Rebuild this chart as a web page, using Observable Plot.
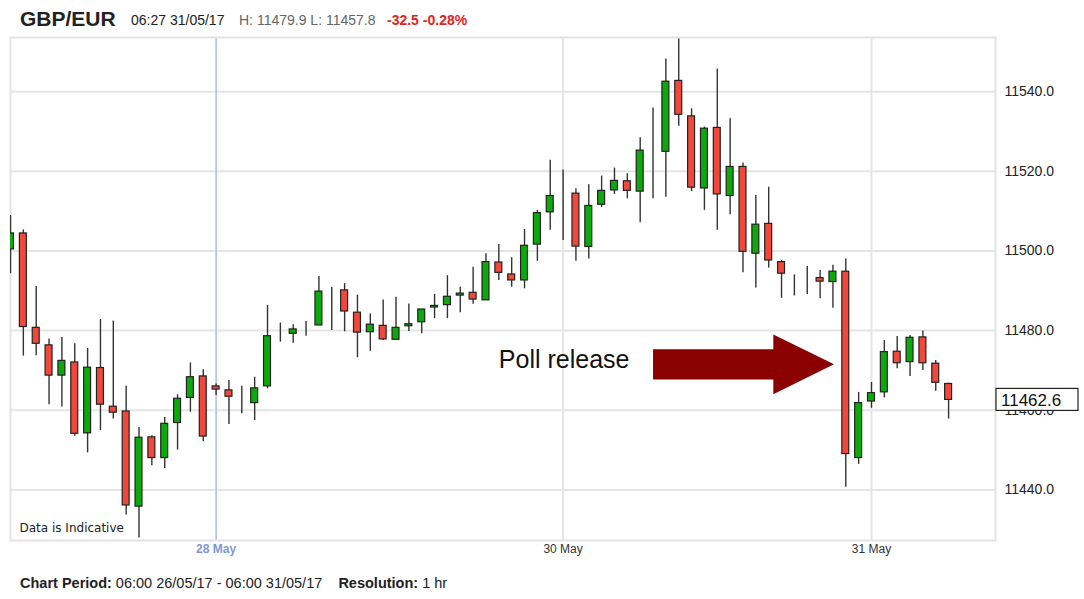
<!DOCTYPE html>
<html>
<head>
<meta charset="utf-8">
<script src="https://cdn.jsdelivr.net/npm/d3@7"></script>
<script src="https://cdn.jsdelivr.net/npm/@observablehq/plot@0.6"></script>
<style>
  html, body { margin: 0; padding: 0; background: #fff; }
  #wrap { position: relative; width: 1084px; height: 599px; overflow: hidden; font-family: "Liberation Sans", Arial, sans-serif; }
  #chart { position: absolute; left: 0; top: 0; }
  .hdr { position: absolute; white-space: nowrap; line-height: 1; }
</style>
</head>
<body>
<div id="wrap">
  <div id="chart"></div>
  <div class="hdr" style="left:20px; top:8px; font-size:21px; font-weight:bold; color:#222;">GBP/EUR</div>
  <div class="hdr" style="left:131px; top:13px; font-size:14px; color:#222;">06:27 31/05/17</div>
  <div class="hdr" style="left:239px; top:13px; font-size:14px; color:#666;">H: 11479.9 L: 11457.8</div>
  <div class="hdr" style="left:387px; top:13px; font-size:14px; font-weight:bold; color:#e2251c;">-32.5 -0.28%</div>
  <div class="hdr" style="left:20px; top:576px; font-size:14.5px; color:#222;"><b>Chart Period:</b> 06:00 26/05/17 - 06:00 31/05/17&nbsp;&nbsp;&nbsp;&nbsp;<b>Resolution:</b> 1 hr</div>
</div>
<script>
// ---- data (hourly candles, index 0 = 06:00 26/05/17) ----
const open  = [11500.4,11504.4,11480.7,11476.3,11468.7,11472.0,11454.2,11470.6,11460.9,11459.7,
               11435.8,11453.2,11448.0,11456.8,11463.1,11468.5,11466.0,11465.0,11462.1,11461.8,
               11466.0,11478.9,11479.2,11481.0,11481.3,11490.3,11490.1,11484.5,11479.6,11481.2,
               11477.7,11481.1,11482.1,11485.8,11486.4,11488.8,11489.5,11487.6,11497.1,11494.1,
               11492.6,11501.6,11509.7,11514.2,11514.4,11501.0,11511.6,11515.2,11517.5,11514.9,
               11525.4,11524.9,11542.7,11533.8,11515.7,11530.9,11513.8,11521.1,11499.3,11506.8,
               11497.2,11493.8,11493.3,11493.2,11492.2,11494.8,11448.0,11462.2,11464.5,11474.7,
               11472.1,11478.3,11471.7,11466.6];
const high  = [11508.9,11505.3,11491.1,11477.9,11478.3,11476.7,11475.5,11482.8,11482.4,11466.0,
               11455.7,11453.6,11458.2,11463.9,11471.9,11470.2,11466.6,11467.5,11466.0,11468.3,
               11486.3,11481.9,11481.5,11482.3,11493.6,11490.8,11491.8,11488.9,11484.2,11487.7,
               11488.4,11486.7,11485.3,11489.1,11493.8,11490.9,11495.9,11499.3,11501.6,11498.3,
               11505.4,11510.2,11522.8,11520.3,11515.6,11516.6,11518.8,11520.8,11519.4,11528.4,
               11535.9,11548.2,11553.2,11535.7,11531.1,11545.7,11533.2,11522.1,11513.9,11516.0,
               11497.6,11494.0,11496.1,11495.1,11496.4,11498.0,11464.5,11467.0,11477.5,11478.5,
               11478.8,11479.9,11472.5,11466.8];
const low   = [11494.3,11473.6,11473.7,11461.4,11460.8,11453.5,11449.3,11454.9,11457.8,11433.7,
               11427.9,11446.1,11445.4,11450.0,11459.5,11452.1,11463.7,11456.4,11459.1,11457.4,
               11465.4,11477.1,11476.8,11478.6,11481.3,11480.0,11479.7,11473.2,11474.8,11477.5,
               11477.7,11479.8,11479.2,11483.0,11483.0,11484.5,11486.6,11487.6,11492.6,11490.9,
               11490.5,11497.4,11505.2,11502.6,11497.4,11498.0,11510.9,11514.2,11513.1,11507.1,
               11513.1,11513.5,11531.3,11514.9,11510.2,11505.2,11509.1,11494.5,11490.7,11495.7,
               11488.1,11488.7,11489.1,11488.0,11485.6,11440.7,11446.4,11460.5,11463.1,11470.4,
               11468.5,11470.0,11464.8,11457.8];
const close = [11504.4,11480.9,11476.7,11468.7,11472.4,11454.1,11470.7,11461.4,11459.4,11436.1,
               11453.1,11448.0,11456.6,11462.9,11468.3,11453.4,11465.2,11463.4,11462.1,11465.5,
               11478.6,11478.9,11480.3,11481.0,11489.8,11490.3,11484.8,11479.5,11481.5,11477.8,
               11480.7,11481.6,11485.3,11486.2,11488.5,11489.3,11487.8,11497.2,11494.5,11492.6,
               11501.3,11509.5,11513.8,11514.2,11501.1,11511.3,11515.1,11517.6,11515.1,11525.2,
               11525.4,11542.5,11534.2,11515.9,11530.7,11514.2,11521.1,11499.8,11506.6,11497.6,
               11494.3,11493.8,11493.3,11492.3,11494.8,11449.0,11461.8,11464.3,11474.6,11471.8,
               11478.2,11471.8,11466.9,11462.6];

const xTickIdx    = [16, 43, 67];
const xTickLabels = ["28 May", "30 May", "31 May"];
const yTicks      = [11440, 11460, 11480, 11500, 11520, 11540];

// annotation arrow outline (data units: candle index, price)
const arrowX  = [50.04, 59.40, 59.40, 64.12];
const arrowLo = [11467.6, 11467.6, 11463.9, 11471.4];
const arrowHi = [11475.2, 11475.2, 11478.9, 11471.4];

// ---- tables built from the arrays ----
const candles = open.map((o, i) => ({i, open: o, high: high[i], low: low[i], close: close[i]}));
const arrowPts = arrowX.map((x, k) => ({x, lo: arrowLo[k], hi: arrowHi[k]}));
const ticks = xTickIdx.map((x, k) => ({x, label: xTickLabels[k]}));

const GREEN = "#0aaa0a", RED = "#f2483c", BODY_HALF = 0.27;

const chart = Plot.plot({
  width: 1084,
  height: 599,
  marginTop: 37,
  marginBottom: 59,
  marginLeft: 10,
  marginRight: 89,
  style: {fontFamily: "'Liberation Sans', Arial, sans-serif", fontSize: "14px", background: "transparent", color: "#222"},
  x: {domain: [0, 76.65], axis: null},
  y: {domain: [11427.3, 11553.6], axis: null},
  marks: [
    Plot.gridY(yTicks, {stroke: "#e5e5e5", strokeOpacity: 1, strokeWidth: 2}),
    Plot.ruleX(xTickIdx.slice(1), {stroke: "#e5e5e5", strokeWidth: 2}),
    Plot.ruleX(xTickIdx.slice(0, 1), {stroke: "#a9bde8", strokeWidth: 1.5}),
    Plot.frame({stroke: "#e3e3e3", strokeWidth: 2}),
    Plot.axisY(yTicks, {anchor: "right", tickSize: 0, tickPadding: 9, tickFormat: d3.format(".1f"), fontSize: 14, color: "#222", label: null}),
    Plot.text(ticks.slice(0, 1), {x: "x", text: "label", frameAnchor: "bottom", dy: 12, fontSize: 12, fontWeight: 600, fill: "#7f97d4"}),
    Plot.text(ticks.slice(1), {x: "x", text: "label", frameAnchor: "bottom", dy: 12, fontSize: 12, fill: "#333"}),
    Plot.text(["Data is Indicative"], {frameAnchor: "bottom-left", dx: 9, dy: -9, lineAnchor: "bottom", textAnchor: "start", fontFamily: "DejaVu Sans", fontSize: 12, fill: "#222"}),
    Plot.ruleX(candles, {x: "i", y1: "low", y2: "high", stroke: "#333", strokeWidth: 1.4, clip: true}),
    Plot.rect(candles.filter(d => d.close >= d.open), {x1: d => d.i - BODY_HALF, x2: d => d.i + BODY_HALF, y1: "open", y2: "close", fill: GREEN, stroke: "#222", strokeWidth: 1.2, clip: true}),
    Plot.rect(candles.filter(d => d.close < d.open), {x1: d => d.i - BODY_HALF, x2: d => d.i + BODY_HALF, y1: "open", y2: "close", fill: RED, stroke: "#222", strokeWidth: 1.2, clip: true}),
    Plot.areaY(arrowPts, {x: "x", y1: "lo", y2: "hi", fill: "#8b0000", curve: "linear"}),
    Plot.text(["Poll release"], {x: 38.0, y: 11472.5, textAnchor: "start", fontSize: 25, fill: "#111"})
  ]
});

document.getElementById("chart").appendChild(chart);

// current-price box, positioned through the plot's own scales
const ys = chart.scale("y"), xs = chart.scale("x");
const last = candles[candles.length - 1];
const py = ys.apply(last.close);
const px = xs.apply(xs.domain[1]);
const g = d3.select(chart).append("g");
g.append("rect").attr("x", px + 1).attr("y", py - 11).attr("width", 82).attr("height", 22)
  .attr("fill", "#fff").attr("stroke", "#222").attr("stroke-width", 1.2);
g.append("text").attr("x", px + 6).attr("y", py + 6.5).attr("font-size", 17)
  .attr("text-anchor", "start").attr("fill", "#111").text(d3.format(".1f")(last.close));
</script>
</body>
</html>
